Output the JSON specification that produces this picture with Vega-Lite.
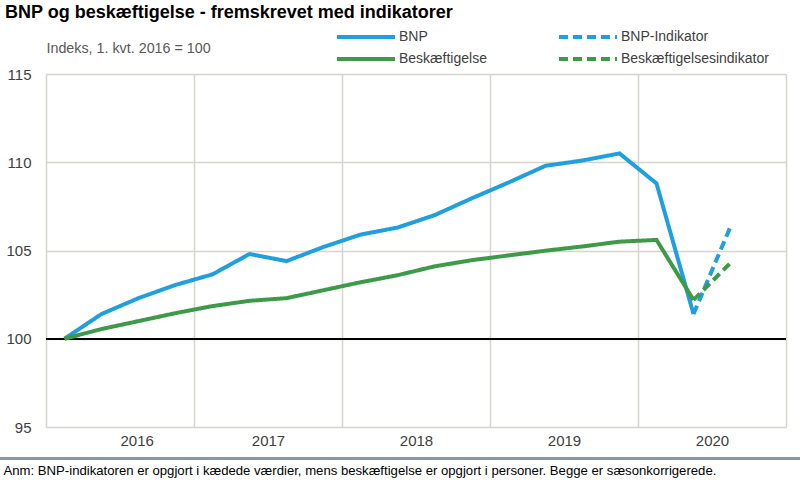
{
  "$schema": "https://vega.github.io/schema/vega-lite/v6.json",
  "autosize": {"type": "none"},
  "padding": {"left": 46, "top": 74, "right": 14, "bottom": 53},
  "width": 740,
  "height": 353,
  "background": "white",
  "title": {
    "text": "BNP og beskæftigelse - fremskrevet med indikatorer",
    "anchor": "start",
    "frame": "group",
    "dx": -41,
    "offset": 3,
    "font": "Liberation Sans",
    "fontSize": 18,
    "fontWeight": "bold",
    "color": "#000000"
  },
  "data": {
    "values": [
      {"serie": "BNP", "tid": 2016.125, "indeks": 100},
      {"serie": "BNP", "tid": 2016.375, "indeks": 101.4},
      {"serie": "BNP", "tid": 2016.625, "indeks": 102.3},
      {"serie": "BNP", "tid": 2016.875, "indeks": 103.05},
      {"serie": "BNP", "tid": 2017.125, "indeks": 103.65},
      {"serie": "BNP", "tid": 2017.375, "indeks": 104.8},
      {"serie": "BNP", "tid": 2017.625, "indeks": 104.4},
      {"serie": "BNP", "tid": 2017.875, "indeks": 105.2},
      {"serie": "BNP", "tid": 2018.125, "indeks": 105.9},
      {"serie": "BNP", "tid": 2018.375, "indeks": 106.3},
      {"serie": "BNP", "tid": 2018.625, "indeks": 107.0},
      {"serie": "BNP", "tid": 2018.875, "indeks": 107.95},
      {"serie": "BNP", "tid": 2019.125, "indeks": 108.85},
      {"serie": "BNP", "tid": 2019.375, "indeks": 109.8},
      {"serie": "BNP", "tid": 2019.625, "indeks": 110.1},
      {"serie": "BNP", "tid": 2019.875, "indeks": 110.5},
      {"serie": "BNP", "tid": 2020.125, "indeks": 108.8},
      {"serie": "BNP", "tid": 2020.375, "indeks": 101.4},
      {"serie": "BNP-Indikator", "tid": 2020.375, "indeks": 101.4},
      {"serie": "BNP-Indikator", "tid": 2020.625, "indeks": 106.35},
      {"serie": "Beskæftigelse", "tid": 2016.125, "indeks": 100},
      {"serie": "Beskæftigelse", "tid": 2016.375, "indeks": 100.55},
      {"serie": "Beskæftigelse", "tid": 2016.625, "indeks": 101.0},
      {"serie": "Beskæftigelse", "tid": 2016.875, "indeks": 101.45},
      {"serie": "Beskæftigelse", "tid": 2017.125, "indeks": 101.85},
      {"serie": "Beskæftigelse", "tid": 2017.375, "indeks": 102.15},
      {"serie": "Beskæftigelse", "tid": 2017.625, "indeks": 102.3},
      {"serie": "Beskæftigelse", "tid": 2017.875, "indeks": 102.75},
      {"serie": "Beskæftigelse", "tid": 2018.125, "indeks": 103.2},
      {"serie": "Beskæftigelse", "tid": 2018.375, "indeks": 103.6},
      {"serie": "Beskæftigelse", "tid": 2018.625, "indeks": 104.1},
      {"serie": "Beskæftigelse", "tid": 2018.875, "indeks": 104.45},
      {"serie": "Beskæftigelse", "tid": 2019.125, "indeks": 104.72},
      {"serie": "Beskæftigelse", "tid": 2019.375, "indeks": 104.99},
      {"serie": "Beskæftigelse", "tid": 2019.625, "indeks": 105.23},
      {"serie": "Beskæftigelse", "tid": 2019.875, "indeks": 105.5},
      {"serie": "Beskæftigelse", "tid": 2020.125, "indeks": 105.6},
      {"serie": "Beskæftigelse", "tid": 2020.375, "indeks": 102.2},
      {"serie": "Beskæftigelsesindikator", "tid": 2020.375, "indeks": 102.2},
      {"serie": "Beskæftigelsesindikator", "tid": 2020.625, "indeks": 104.3}
    ]
  },
  "layer": [
    {
      "mark": {"type": "rule", "color": "#000000", "strokeWidth": 1.5},
      "encoding": {"y": {"datum": 100}}
    },
    {
      "mark": {"type": "rule", "color": "#8a979c", "strokeWidth": 2},
      "encoding": {
        "x": {"datum": 2015.69},
        "x2": {"datum": 2021.1},
        "y": {"datum": 93.2}
      }
    },
    {
      "mark": {"type": "line", "strokeWidth": 4, "strokeCap": "butt"},
      "encoding": {
        "x": {
          "field": "tid",
          "type": "quantitative",
          "scale": {"domain": [2016, 2021], "nice": false, "zero": false},
          "axis": {
            "values": [2016, 2017, 2018, 2019, 2020, 2021],
            "format": "d",
            "labelExpr": "datum.value == 2021 ? '' : datum.label",
            "labelOffset": 74,
            "labelPadding": 6,
            "title": "Anm: BNP-indikatoren er opgjort i kædede værdier, mens beskæftigelse er opgjort i personer. Begge er sæsonkorrigerede.",
            "titleX": -43,
            "titleY": 47,
            "titleAlign": "left",
            "titleBaseline": "alphabetic",
            "titleFontWeight": "normal",
            "titleFontSize": 13.15,
            "titleColor": "#000000"
          }
        },
        "y": {
          "field": "indeks",
          "type": "quantitative",
          "scale": {"domain": [95, 115], "nice": false, "zero": false},
          "axis": {
            "values": [95, 100, 105, 110, 115],
            "labelPadding": 15,
            "title": "Indeks, 1. kvt. 2016 = 100",
            "titleAngle": 0,
            "titleX": 0,
            "titleY": -22,
            "titleAlign": "left",
            "titleBaseline": "alphabetic",
            "titleFontWeight": "normal",
            "titleFontSize": 14.3,
            "titleColor": "#595959"
          }
        },
        "color": {
          "field": "serie",
          "type": "nominal",
          "scale": {
            "domain": ["BNP", "BNP-Indikator", "Beskæftigelse", "Beskæftigelsesindikator"],
            "range": ["#1f9fdc", "#1f9fdc", "#3e9a48", "#3e9a48"]
          },
          "legend": {
            "orient": "none",
            "legendX": 308,
            "legendY": -49,
            "columns": 2,
            "direction": "horizontal",
            "title": null,
            "symbolType": "M-2.9,0H2.9",
            "symbolSize": 400,
            "symbolStrokeWidth": 4,
            "labelOffset": 21,
            "columnPadding": 64,
            "rowPadding": 2,
            "labelFont": "Liberation Sans",
            "labelFontSize": 14,
            "labelColor": "#404040",
            "labelLimit": 300
          }
        },
        "strokeDash": {
          "field": "serie",
          "type": "nominal",
          "scale": {
            "domain": ["BNP", "BNP-Indikator", "Beskæftigelse", "Beskæftigelsesindikator"],
            "range": [[1, 0], [9, 5], [1, 0], [9, 5]]
          },
          "legend": null
        }
      }
    }
  ],
  "config": {
    "font": "Liberation Sans",
    "view": {"stroke": null},
    "axis": {
      "grid": true,
      "gridColor": "#d6d4cc",
      "gridWidth": 1.5,
      "domain": false,
      "ticks": false,
      "labelFont": "Liberation Sans",
      "labelFontSize": 15,
      "labelColor": "#404040",
      "titleFont": "Liberation Sans"
    }
  }
}
